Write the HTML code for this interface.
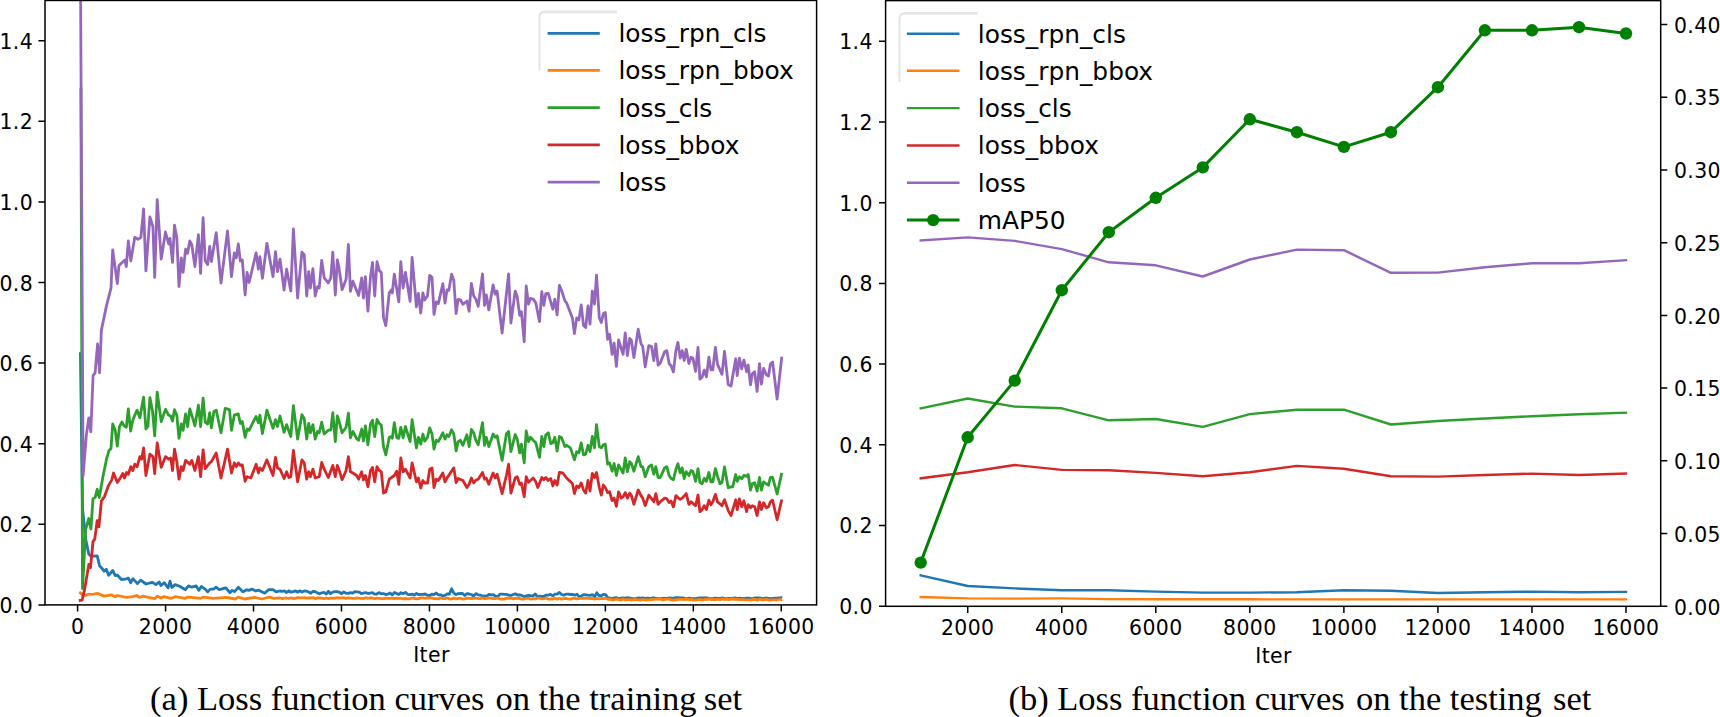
<!DOCTYPE html>
<html lang="en"><head><meta charset="utf-8"><title>Loss function curves</title>
<style>
html,body{margin:0;padding:0;background:#fff;width:1720px;height:717px;overflow:hidden}
svg text{fill:#000}
.t{font-family:"DejaVu Sans","Liberation Sans",sans-serif;font-size:20.4px;letter-spacing:0.4px}
.l{font-family:"DejaVu Sans","Liberation Sans",sans-serif;font-size:24.85px}
.c{font-family:"Liberation Serif","Times New Roman",serif;font-size:34.5px;white-space:pre}
</style></head><body>
<svg width="1720" height="717" viewBox="0 0 1720 717" style="position:absolute;left:0;top:0;display:block">
<rect width="1720" height="717" fill="#fff"/>
<defs><clipPath id="cl"><rect x="45.0" y="0.5" width="771.6" height="604.4"/></clipPath>
<clipPath id="cr"><rect x="885.6" y="0.6" width="775.1" height="605.7"/></clipPath></defs>
<g clip-path="url(#cl)">
<polyline points="80.4,352.2 82.5,508.1 85.7,539.4 88.8,554.1 90.9,556.2 97.2,555.8 99.3,564.5 99.7,566.0 102.2,568.6 104.1,571.2 106.3,569.2 108.6,575.3 112.7,570.5 115.3,575.6 117.3,575.0 121.4,579.5 126.5,578.8 128.4,578.2 130.6,582.7 132.9,578.6 137.4,583.6 140.6,580.1 146.0,584.0 152.1,582.3 155.9,584.6 159.1,582.0 161.0,585.5 164.2,582.7 168.1,587.8 170.0,581.1 171.9,587.5 175.1,584.6 180.2,586.5 185.4,589.7 188.5,585.9 191.7,587.2 196.2,585.9 198.8,590.4 201.3,586.5 205.2,589.1 207.7,591.9 210.3,589.1 213.5,589.1 216.1,587.2 219.2,589.7 225.6,587.8 230.1,592.7 232.0,590.4 234.6,591.6 238.4,587.2 242.9,591.9 246.7,589.7 248.7,590.4 251.9,589.1 255.7,591.0 258.3,590.1 264.7,593.2 268.5,589.7 273.0,589.7 276.2,591.9 280.0,591.0 282.2,591.4 284.4,590.9 286.6,592.5 288.8,590.8 291.0,592.2 293.2,591.7 295.4,590.8 297.6,592.2 299.8,590.8 302.0,592.0 304.2,591.0 306.4,591.1 308.6,592.1 310.8,593.3 313.0,591.3 315.2,591.6 317.4,592.9 319.6,593.8 321.8,592.8 324.0,592.3 326.2,594.0 328.4,591.3 330.6,593.7 332.8,592.1 335.0,591.7 337.2,591.6 339.4,592.2 341.6,593.8 343.8,591.9 346.0,593.2 348.2,593.4 350.4,592.6 352.6,593.1 354.8,591.7 357.0,591.8 359.2,592.2 361.4,593.7 363.6,593.0 365.8,592.6 368.0,593.5 370.2,593.1 372.4,592.7 374.6,594.2 376.8,594.0 379.0,592.6 381.2,593.7 383.4,593.6 385.6,594.6 387.8,594.2 390.0,592.9 392.2,595.1 394.4,592.5 396.6,593.4 398.8,594.5 401.0,592.7 403.2,593.7 405.4,592.4 407.6,594.3 409.8,594.7 412.0,594.1 414.2,595.1 416.4,593.4 418.6,594.6 420.8,594.3 423.0,594.3 425.2,594.0 427.4,595.2 429.6,595.5 431.8,594.1 434.0,594.7 436.2,593.0 438.4,594.9 440.6,594.8 442.8,595.9 445.0,595.4 447.2,593.8 449.4,594.1 451.6,588.8 453.8,593.1 456.0,594.5 458.2,593.6 460.4,593.5 462.6,593.4 464.8,595.5 467.0,593.6 469.2,594.0 471.4,594.5 473.6,596.0 475.8,593.6 478.0,594.8 480.2,595.1 482.4,596.1 484.6,596.0 486.8,596.1 489.0,594.4 491.2,594.9 493.4,594.7 495.6,596.3 497.8,596.5 500.0,594.1 502.2,594.2 504.4,594.4 506.6,594.4 508.8,595.2 511.0,595.5 513.2,594.5 515.4,593.8 517.6,595.0 519.8,594.9 522.0,595.5 524.2,596.7 526.4,595.9 528.6,595.4 530.8,595.7 533.0,595.9 535.2,594.0 537.4,596.6 539.6,596.2 541.8,596.5 544.0,596.3 546.2,595.1 548.4,595.1 550.6,594.3 552.8,595.9 555.0,594.2 557.2,594.2 559.4,592.4 561.6,594.5 563.8,595.1 566.0,594.2 568.2,594.1 570.4,594.5 572.6,594.4 574.8,595.2 577.0,594.2 579.2,596.8 581.4,596.0 583.6,594.6 585.8,594.9 588.0,595.2 590.2,595.3 592.4,594.6 594.6,596.8 596.8,592.8 599.0,595.7 601.2,595.7 603.4,594.5 605.6,594.6 607.8,598.0 610.0,598.0 612.2,598.5 614.4,597.9 616.6,597.7 618.8,598.7 621.0,598.2 623.2,597.8 625.4,598.2 627.6,597.7 629.8,598.2 632.0,598.7 634.2,598.6 636.4,598.4 638.6,598.0 640.8,598.1 643.0,597.9 645.2,598.5 647.4,598.2 649.6,598.5 651.8,598.0 654.0,597.9 656.2,598.5 658.4,598.7 660.6,598.6 662.8,598.5 665.0,598.5 667.2,598.4 669.4,597.9 671.6,598.2 673.8,598.1 676.0,597.7 678.2,597.7 680.4,598.0 682.6,598.0 684.8,598.4 687.0,598.7 689.2,598.1 691.4,598.6 693.6,598.7 695.8,598.7 698.0,598.1 700.2,597.9 702.4,597.9 704.6,597.9 706.8,597.9 709.0,598.3 711.2,598.6 713.4,598.5 715.6,598.2 717.8,598.4 720.0,598.5 722.2,597.8 724.4,598.4 726.6,598.6 728.8,598.5 731.0,598.5 733.2,598.2 735.4,597.9 737.6,598.5 739.8,598.0 742.0,598.5 744.2,598.7 746.4,598.1 748.6,598.1 750.8,598.6 753.0,598.4 755.2,597.9 757.4,597.8 759.6,597.9 761.8,598.6 764.0,598.5 766.2,597.8 768.4,598.5 770.6,598.7 772.8,598.4 775.0,598.1 777.2,598.2 779.4,597.8 781.6,597.7 782.0,598.0" fill="none" stroke="#1f77b4" stroke-width="2.8" stroke-linejoin="round" stroke-linecap="butt" />
<polyline points="79.2,592.3 82.4,594.2 85.6,595.5 87.5,594.4 93.5,594.2 97.7,593.5 104.1,596.1 111.2,594.8 115.3,596.7 117.3,595.5 126.5,597.4 132.9,596.7 136.7,595.5 139.3,597.4 143.1,596.1 148.3,597.4 154.7,598.7 157.2,596.1 161.0,598.0 163.6,596.7 171.3,598.3 175.1,596.7 185.4,598.3 187.9,597.1 200.7,598.3 203.3,597.1 213.5,598.3 226.3,597.4 235.2,599.0 238.4,597.1 244.2,599.0 254.4,597.4 262.1,599.0 269.1,597.1 273.6,598.3 280.0,598.0 282.2,598.6 284.4,598.2 286.6,598.0 288.8,598.5 291.0,597.9 293.2,598.5 295.4,598.4 297.6,597.7 299.8,597.8 302.0,597.8 304.2,597.7 306.4,598.2 308.6,597.8 310.8,598.0 313.0,597.6 315.2,598.6 317.4,597.9 319.6,598.0 321.8,598.2 324.0,598.6 326.2,598.0 328.4,598.6 330.6,598.1 332.8,598.2 335.0,598.2 337.2,597.6 339.4,598.1 341.6,597.8 343.8,597.6 346.0,598.5 348.2,597.8 350.4,598.1 352.6,598.4 354.8,598.3 357.0,598.0 359.2,598.2 361.4,598.3 363.6,598.5 365.8,597.7 368.0,598.3 370.2,597.9 372.4,598.0 374.6,598.6 376.8,598.2 379.0,598.3 381.2,598.6 383.4,598.7 385.6,598.2 387.8,598.4 390.0,598.3 392.2,598.3 394.4,598.5 396.6,598.2 398.8,598.3 401.0,598.3 403.2,598.8 405.4,598.5 407.6,598.8 409.8,598.8 412.0,598.0 414.2,598.4 416.4,598.9 418.6,598.7 420.8,597.9 423.0,597.9 425.2,598.3 427.4,597.8 429.6,598.1 431.8,597.9 434.0,598.6 436.2,598.7 438.4,598.9 440.6,598.0 442.8,598.7 445.0,598.6 447.2,598.0 449.4,598.9 451.6,599.0 453.8,598.1 456.0,599.0 458.2,598.3 460.4,598.4 462.6,599.0 464.8,598.9 467.0,598.1 469.2,598.4 471.4,598.5 473.6,598.3 475.8,598.1 478.0,598.3 480.2,598.8 482.4,597.9 484.6,598.6 486.8,598.4 489.0,597.9 491.2,598.3 493.4,598.7 495.6,598.5 497.8,598.0 500.0,599.1 502.2,598.9 504.4,599.1 506.6,598.1 508.8,598.3 511.0,598.0 513.2,598.9 515.4,598.3 517.6,598.1 519.8,598.5 522.0,599.1 524.2,599.0 526.4,598.3 528.6,598.2 530.8,599.1 533.0,598.7 535.2,598.9 537.4,598.1 539.6,598.1 541.8,598.9 544.0,598.6 546.2,598.1 548.4,599.2 550.6,598.8 552.8,599.0 555.0,598.2 557.2,599.1 559.4,598.2 561.6,599.1 563.8,598.6 566.0,598.5 568.2,598.8 570.4,599.2 572.6,598.4 574.8,598.3 577.0,598.8 579.2,598.4 581.4,598.3 583.6,598.3 585.8,598.2 588.0,598.4 590.2,598.5 592.4,598.5 594.6,599.1 596.8,598.5 599.0,598.8 601.2,598.4 603.4,598.6 605.6,598.2 607.8,599.3 610.0,599.0 612.2,599.9 614.4,599.7 616.6,599.2 618.8,599.6 621.0,600.1 623.2,599.1 625.4,600.0 627.6,599.5 629.8,599.6 632.0,600.0 634.2,599.5 636.4,599.6 638.6,599.8 640.8,600.2 643.0,599.4 645.2,600.0 647.4,599.8 649.6,599.8 651.8,599.5 654.0,599.4 656.2,599.1 658.4,599.2 660.6,599.1 662.8,599.9 665.0,599.3 667.2,599.2 669.4,599.1 671.6,600.0 673.8,600.0 676.0,599.8 678.2,599.3 680.4,599.3 682.6,599.4 684.8,599.6 687.0,599.2 689.2,599.5 691.4,599.3 693.6,600.2 695.8,600.2 698.0,599.7 700.2,599.3 702.4,600.2 704.6,599.4 706.8,599.4 709.0,599.0 711.2,599.5 713.4,599.6 715.6,599.6 717.8,599.2 720.0,599.6 722.2,599.0 724.4,599.3 726.6,599.1 728.8,599.5 731.0,599.1 733.2,599.0 735.4,599.4 737.6,599.3 739.8,599.7 742.0,599.6 744.2,599.9 746.4,599.8 748.6,599.9 750.8,600.1 753.0,599.5 755.2,599.4 757.4,600.2 759.6,599.2 761.8,599.9 764.0,599.8 766.2,599.1 768.4,600.0 770.6,600.1 772.8,599.8 775.0,599.9 777.2,600.0 779.4,599.2 781.6,599.6 782.0,599.2" fill="none" stroke="#ff7f0e" stroke-width="2.8" stroke-linejoin="round" stroke-linecap="butt" />
<polyline points="80.6,87.9 80.9,87.8 82.5,588.6 85.7,529.0 88.8,518.5 90.9,529.0 93.0,498.7 95.1,497.6 97.2,489.3 99.3,497.6 102.7,478.0 106.5,459.2 109.0,450.4 111.0,448.4 112.7,424.0 115.2,430.3 117.3,446.1 119.5,426.5 122.0,422.0 124.0,425.8 126.3,427.3 128.3,408.9 130.6,431.0 132.8,420.2 134.8,415.2 137.1,410.2 139.9,417.7 143.6,397.1 145.9,429.0 147.9,426.5 149.9,397.6 152.4,410.2 154.7,435.8 157.2,392.1 161.2,421.5 165.5,409.4 168.7,415.2 170.7,416.0 172.5,421.0 174.5,409.7 176.8,415.2 179.0,438.3 181.3,424.0 183.1,430.3 185.6,413.9 187.6,426.5 189.8,408.9 191.8,415.2 194.9,425.8 198.4,405.2 200.6,426.5 203.1,398.1 205.2,422.2 207.7,424.0 209.7,412.7 211.4,427.8 213.9,411.4 216.2,410.2 221.0,432.8 225.2,408.4 229.5,409.7 231.5,430.3 234.3,415.2 238.3,413.9 240.3,423.5 242.3,421.5 245.1,437.3 247.1,429.0 249.1,430.3 253.4,421.5 256.1,416.5 258.4,422.7 259.9,415.2 262.4,433.5 266.9,410.2 273.0,428.3 275.5,419.7 277.5,426.5 280.0,416.0 284.1,432.3 286.6,424.7 290.8,436.5 293.4,405.7 297.6,439.1 301.9,414.7 304.2,418.5 306.7,439.1 308.7,423.5 310.4,432.8 312.9,424.7 315.2,439.1 317.5,431.5 319.2,432.8 321.7,422.2 324.2,434.0 328.3,430.3 330.8,429.8 332.8,412.7 335.3,441.6 337.3,416.0 338.8,420.2 342.1,432.8 346.1,427.3 348.4,413.2 350.4,437.8 352.9,431.5 356.6,438.6 358.6,440.3 361.7,429.0 363.4,441.1 365.4,425.8 367.9,444.8 370.5,424.0 372.5,420.2 374.7,436.5 377.0,419.5 379.2,423.5 381.3,425.2 383.5,446.6 385.8,454.9 389.3,437.3 391.3,436.5 392.3,438.3 394.3,422.7 396.8,437.8 398.8,438.3 400.8,427.3 403.1,437.8 405.4,426.5 410.1,441.6 412.1,419.7 416.4,447.9 418.4,437.3 420.7,444.1 422.9,434.0 424.7,441.1 427.5,437.3 429.7,427.8 432.0,434.0 434.0,449.1 436.2,440.3 438.3,441.6 442.8,432.8 445.0,439.1 447.0,434.8 448.8,436.5 451.6,429.8 453.8,434.0 456.1,450.9 458.1,441.6 460.4,440.3 462.9,445.3 466.9,434.8 469.1,446.6 471.4,429.5 473.7,432.8 475.9,440.3 478.2,444.8 482.5,422.7 484.5,445.3 486.3,437.3 488.8,446.6 493.1,434.0 495.1,437.3 497.1,435.8 502.1,460.4 506.4,434.0 508.6,431.5 510.9,451.6 515.2,434.5 517.2,439.1 519.7,452.9 521.4,444.1 524.2,462.9 526.2,431.0 528.5,441.6 530.5,437.3 533.2,440.3 535.8,442.8 539.5,457.4 541.8,436.5 543.8,446.6 545.8,434.8 548.3,432.8 550.8,443.6 552.8,442.8 554.8,437.3 557.1,451.1 559.4,436.5 561.6,437.8 564.9,446.6 566.6,445.3 570.4,447.9 574.4,459.9 576.7,451.6 578.9,452.9 581.2,442.8 583.5,454.9 585.7,454.1 588.0,445.3 590.0,451.6 592.3,436.5 594.5,447.9 596.5,424.7 599.3,446.6 601.3,447.9 603.3,444.8 605.3,444.1 607.6,464.2 609.6,462.9 612.1,471.2 614.1,463.4 616.4,475.5 618.6,464.9 623.1,473.0 625.2,457.9 627.4,471.7 629.7,461.7 631.4,463.4 633.9,471.2 638.2,456.6 641.0,466.7 642.7,466.7 645.2,476.7 648.8,466.7 651.5,464.9 653.8,474.2 655.8,466.7 658.1,477.5 660.3,477.5 664.6,467.9 666.8,466.7 669.1,475.5 671.1,478.5 673.4,479.7 675.9,469.2 677.9,463.7 680.2,473.0 682.2,467.9 684.2,478.7 686.2,471.7 688.9,475.5 691.1,470.5 692.9,471.5 695.6,481.3 698.0,468.6 699.9,482.3 702.1,483.8 704.2,478.4 706.4,481.3 708.9,472.5 710.9,481.9 712.8,481.9 715.4,468.6 717.5,476.4 720.0,483.8 722.0,482.3 724.5,467.0 728.2,487.7 731.0,486.8 732.7,486.8 735.7,474.5 737.2,481.3 739.4,476.8 741.7,478.8 743.9,475.4 746.6,476.4 748.2,474.5 750.5,490.1 752.3,483.8 754.6,482.7 757.1,491.1 759.5,477.4 761.4,490.1 763.6,481.9 766.3,483.8 768.5,485.2 770.4,477.4 772.6,477.4 777.1,494.0 781.8,472.9" fill="none" stroke="#2ca02c" stroke-width="2.8" stroke-linejoin="round" stroke-linecap="butt" />
<polyline points="78.8,600.5 82.1,600.1 84.6,589.6 88.8,564.5 90.5,567.7 93.0,541.5 94.7,539.4 97.2,520.6 98.9,526.9 101.4,500.8 104.5,496.6 108.7,485.1 111.8,479.9 113.5,473.0 117.3,482.5 120.3,478.0 122.8,473.5 124.5,478.0 126.5,472.5 128.3,474.2 130.8,466.7 132.8,470.5 134.8,464.2 137.1,466.7 139.9,456.6 141.6,459.2 143.6,447.9 145.9,475.5 149.9,454.1 152.9,456.6 154.7,473.5 157.2,442.8 161.2,467.4 165.5,456.6 168.7,459.2 170.7,457.9 172.5,470.5 174.5,449.1 176.8,461.7 179.0,479.2 181.3,466.7 183.1,470.5 185.6,460.4 189.8,464.2 191.8,460.4 194.9,470.5 198.4,456.6 200.6,476.7 203.1,449.9 205.2,468.7 209.7,462.9 211.4,461.7 216.2,452.9 221.0,478.0 227.5,449.1 231.5,473.0 234.3,462.9 236.3,466.7 238.3,462.9 240.3,465.4 242.3,464.9 245.1,481.3 247.1,476.7 250.9,478.0 256.1,464.2 258.4,473.0 259.9,467.9 262.4,470.5 266.9,459.9 273.0,475.5 275.5,457.4 277.5,467.9 280.0,469.2 284.1,478.5 286.6,471.7 288.8,477.5 290.8,476.7 293.4,450.4 297.6,481.8 301.9,459.9 304.2,462.9 306.7,479.2 308.7,471.7 310.4,476.7 312.9,469.2 315.2,478.0 319.2,476.7 321.7,462.4 324.2,469.2 328.3,477.5 332.8,465.4 335.3,476.7 337.3,465.4 338.8,469.2 342.1,479.7 346.1,470.5 348.4,456.6 350.4,471.7 352.9,473.0 356.6,475.5 358.6,479.2 361.7,471.7 363.4,480.0 365.4,475.5 367.9,486.8 370.5,470.5 372.5,467.4 374.7,481.8 377.0,466.7 379.2,470.5 381.3,471.7 383.5,493.1 385.8,491.8 389.3,479.2 394.3,475.5 396.8,471.2 398.8,484.3 400.8,457.9 403.1,471.7 405.4,469.2 410.1,478.0 412.1,462.9 416.4,481.8 418.4,478.0 420.7,488.0 422.9,480.5 424.7,483.0 427.5,483.0 429.7,469.2 432.0,467.9 434.0,487.5 436.2,479.2 438.3,480.5 442.8,473.0 445.0,481.8 447.0,478.0 453.8,467.9 456.1,482.5 458.1,478.5 462.9,480.5 466.9,487.5 469.1,484.3 471.4,478.0 473.7,483.0 475.9,480.0 478.2,479.2 482.5,472.5 484.5,479.2 486.3,478.0 488.8,484.3 493.1,473.0 495.1,478.0 497.1,474.2 502.1,493.6 506.4,475.5 508.6,464.2 510.9,493.1 515.2,478.0 517.2,476.7 519.7,484.3 521.4,483.0 524.2,496.8 526.2,476.7 528.5,482.3 530.5,480.5 533.2,478.0 535.8,481.8 537.8,487.5 541.8,477.5 543.8,479.7 545.8,477.5 548.3,480.5 550.8,478.5 552.8,486.0 554.8,480.5 557.1,485.0 559.4,472.5 562.9,473.0 566.6,478.0 570.4,481.8 572.4,483.5 574.4,493.6 576.7,486.0 578.9,487.5 581.2,483.0 583.5,490.0 585.7,493.1 588.0,480.5 590.0,491.0 592.3,473.5 594.5,477.5 596.5,472.5 599.3,487.5 601.3,495.1 603.3,485.0 605.3,487.5 607.6,492.6 609.6,491.8 612.1,500.6 614.1,498.1 616.4,506.4 618.6,491.8 621.1,498.1 623.1,496.8 625.2,492.6 627.4,498.1 629.7,493.1 631.4,495.6 633.9,504.4 638.2,490.0 641.0,495.6 642.7,498.1 645.2,505.6 648.8,495.1 651.5,498.6 653.8,501.8 655.8,493.6 658.1,504.4 660.3,501.8 664.6,498.1 666.8,498.6 669.1,502.6 671.1,501.1 673.4,506.9 675.9,495.6 677.9,497.6 680.2,499.3 682.2,498.1 686.2,493.6 688.9,504.4 691.1,501.8 692.9,503.4 695.6,505.7 698.0,495.0 699.9,511.6 702.1,509.6 704.2,505.7 706.4,509.6 708.9,500.2 710.9,504.7 712.8,501.8 715.4,494.4 717.5,501.8 720.0,503.8 722.0,505.7 724.5,499.8 728.2,510.6 731.0,515.5 735.7,499.8 737.2,509.6 739.4,498.9 741.7,506.7 743.9,500.8 746.6,511.6 748.2,504.7 750.5,507.7 752.3,505.7 754.6,506.7 757.1,515.5 759.5,501.8 761.4,509.6 763.6,502.8 766.3,507.7 768.5,506.7 770.4,501.8 772.6,500.2 777.1,519.8 781.8,499.5" fill="none" stroke="#d62728" stroke-width="2.8" stroke-linejoin="round" stroke-linecap="butt" />
<polyline points="80.5,-26.4 83.1,475.7 86.3,435.6 88.8,418.0 90.8,431.8 93.1,375.3 95.1,372.8 97.6,343.9 99.6,372.8 101.4,330.1 106.5,305.6 111.0,288.0 112.7,249.8 117.3,283.5 119.0,265.4 124.8,259.9 126.3,266.6 128.3,241.0 130.8,260.9 134.8,237.3 137.9,239.3 140.9,237.3 143.6,208.9 145.9,270.9 149.9,216.9 152.9,226.5 154.7,277.4 157.2,199.6 161.2,259.1 165.5,232.0 168.7,244.0 170.0,238.3 172.5,262.4 174.5,225.2 176.8,237.8 179.0,286.5 181.3,257.9 183.1,272.4 185.6,249.1 187.6,253.3 189.8,241.0 191.8,244.8 194.9,266.6 198.4,234.7 200.6,273.4 203.1,217.7 205.2,260.9 207.7,264.6 209.7,246.5 211.4,261.6 216.2,232.7 221.0,283.0 227.5,231.0 231.5,276.7 234.3,252.8 236.3,257.9 238.3,244.0 240.3,260.9 242.3,259.9 245.1,294.8 247.1,272.4 249.1,282.5 256.1,252.8 258.4,269.2 259.9,256.6 262.4,278.4 266.9,243.3 273.0,276.7 275.5,251.6 277.5,271.7 280.0,259.1 284.1,290.0 286.6,269.2 290.8,291.0 293.4,229.0 297.6,298.0 301.9,252.1 304.2,254.6 306.7,296.0 308.7,271.7 310.4,288.0 312.9,268.6 315.2,296.0 317.5,286.7 319.2,288.0 321.7,260.4 324.2,277.9 328.3,283.0 330.8,277.9 332.8,252.1 335.3,295.0 337.3,259.9 338.8,266.6 342.1,289.7 346.1,279.2 348.4,244.5 350.4,291.3 352.9,281.2 358.6,295.5 361.7,277.9 363.4,298.0 365.4,276.7 367.9,311.1 370.5,276.7 372.5,262.4 374.7,296.0 377.0,261.6 379.2,270.4 381.3,272.4 383.5,317.6 385.8,325.7 389.3,292.5 391.3,290.0 392.3,293.0 394.3,274.2 398.8,301.8 400.8,261.6 403.1,288.0 405.4,272.4 410.1,301.3 412.1,257.3 416.4,306.8 418.4,293.5 420.7,313.1 422.9,293.0 424.7,300.0 427.5,296.0 429.7,275.4 432.0,277.4 434.0,314.4 436.2,301.8 438.3,303.6 442.8,283.7 445.0,303.1 447.0,290.0 448.8,290.5 451.6,274.2 453.8,280.5 456.1,313.6 458.1,299.3 460.4,299.8 462.9,304.3 466.9,301.0 469.1,311.3 471.4,283.5 473.7,296.0 475.9,299.3 478.2,306.3 482.5,274.0 484.5,305.4 486.3,294.8 488.8,309.9 493.1,284.8 495.1,294.1 497.1,291.1 502.1,333.0 508.6,274.0 510.9,323.0 515.2,291.1 517.2,296.6 519.7,315.4 521.4,311.7 524.2,341.8 526.2,286.0 528.5,304.1 530.5,298.4 533.2,299.1 535.8,302.9 539.5,321.7 541.8,291.6 543.8,305.4 545.8,293.6 548.3,293.3 552.8,309.2 554.8,299.1 557.1,314.9 559.4,285.3 561.6,290.3 564.9,300.9 566.6,302.9 572.4,317.9 574.4,333.5 576.7,317.9 578.9,319.9 581.2,304.9 583.5,325.5 585.7,327.5 588.0,305.9 590.0,324.2 592.3,291.1 594.5,304.1 596.5,275.2 599.3,317.9 601.3,322.5 603.3,313.7 605.3,312.4 607.6,339.3 609.6,334.3 612.1,354.4 614.1,343.1 616.4,366.4 618.6,340.0 623.1,354.4 625.2,333.0 627.4,355.6 629.7,338.5 631.4,340.5 633.9,357.6 638.2,329.2 641.0,343.8 642.7,346.3 645.2,366.9 648.8,345.6 651.5,346.3 653.8,360.6 655.8,343.8 658.1,365.2 660.3,363.1 664.6,351.8 666.8,350.6 669.1,363.6 671.1,365.7 673.4,371.9 675.9,350.6 677.9,342.3 680.2,358.1 682.2,350.6 684.2,360.6 686.2,349.3 688.9,363.6 691.1,357.1 692.9,358.1 695.6,371.4 698.0,347.4 699.9,379.2 702.1,377.3 704.2,370.2 706.4,376.7 708.9,357.1 710.9,369.8 712.8,369.8 715.4,347.4 717.5,364.4 722.0,374.3 724.5,351.3 728.2,384.5 731.0,386.1 735.7,358.7 737.2,375.7 739.4,358.1 741.7,368.9 743.9,360.1 746.6,371.8 748.2,365.0 750.5,384.9 752.3,373.8 754.6,371.8 757.1,391.3 759.5,363.6 761.4,384.1 763.6,368.3 766.3,374.7 768.5,376.1 770.4,364.0 772.6,362.0 777.1,399.1 781.8,356.6" fill="none" stroke="#9467bd" stroke-width="2.8" stroke-linejoin="round" stroke-linecap="butt" />
</g>
<rect x="45.00" y="0.45" width="771.60" height="604.45" fill="none" stroke="#000" stroke-width="1.5"/>
<text x="77.60" y="634.1" text-anchor="middle" class="t">0</text>
<text x="165.56" y="634.1" text-anchor="middle" class="t">2000</text>
<text x="253.52" y="634.1" text-anchor="middle" class="t">4000</text>
<text x="341.48" y="634.1" text-anchor="middle" class="t">6000</text>
<text x="429.44" y="634.1" text-anchor="middle" class="t">8000</text>
<text x="517.40" y="634.1" text-anchor="middle" class="t">10000</text>
<text x="605.36" y="634.1" text-anchor="middle" class="t">12000</text>
<text x="693.32" y="634.1" text-anchor="middle" class="t">14000</text>
<text x="781.28" y="634.1" text-anchor="middle" class="t">16000</text>
<text x="33.10" y="612.90" text-anchor="end" class="t">0.0</text>
<text x="33.10" y="532.30" text-anchor="end" class="t">0.2</text>
<text x="33.10" y="451.70" text-anchor="end" class="t">0.4</text>
<text x="33.10" y="371.10" text-anchor="end" class="t">0.6</text>
<text x="33.10" y="290.50" text-anchor="end" class="t">0.8</text>
<text x="33.10" y="209.90" text-anchor="end" class="t">1.0</text>
<text x="33.10" y="129.30" text-anchor="end" class="t">1.2</text>
<text x="33.10" y="48.70" text-anchor="end" class="t">1.4</text>
<path d="M77.60 604.90v6.6 M165.56 604.90v6.6 M253.52 604.90v6.6 M341.48 604.90v6.6 M429.44 604.90v6.6 M517.40 604.90v6.6 M605.36 604.90v6.6 M693.32 604.90v6.6 M781.28 604.90v6.6 M45.00 604.90h-6.6 M45.00 524.30h-6.6 M45.00 443.70h-6.6 M45.00 363.10h-6.6 M45.00 282.50h-6.6 M45.00 201.90h-6.6 M45.00 121.30h-6.6 M45.00 40.70h-6.6" stroke="#000" stroke-width="1.5" fill="none"/>
<text x="431.4" y="661.8" text-anchor="middle" class="t">Iter</text>
<path d="M539.5 70.5V17.0Q539.5 12.0 544.5 12.0" fill="none" stroke="#e2e2e2" stroke-width="1.8"/>
<path d="M544.0 11.8H617.0" fill="none" stroke="#e6e6e6" stroke-width="2.8"/>
<line x1="547.6" y1="33.3" x2="599.8" y2="33.3" stroke="#1f77b4" stroke-width="2.7"/>
<text x="618.4" y="42.3" class="l">loss_rpn_cls</text>
<line x1="547.6" y1="70.4" x2="599.8" y2="70.4" stroke="#ff7f0e" stroke-width="2.7"/>
<text x="618.4" y="79.4" class="l">loss_rpn_bbox</text>
<line x1="547.6" y1="107.6" x2="599.8" y2="107.6" stroke="#2ca02c" stroke-width="2.7"/>
<text x="618.4" y="116.6" class="l">loss_cls</text>
<line x1="547.6" y1="144.8" x2="599.8" y2="144.8" stroke="#d62728" stroke-width="2.7"/>
<text x="618.4" y="153.8" class="l">loss_bbox</text>
<line x1="547.6" y1="182.1" x2="599.8" y2="182.1" stroke="#9467bd" stroke-width="2.7"/>
<text x="618.4" y="191.1" class="l">loss</text>
<g clip-path="url(#cr)">
<polyline points="920.7,575.3 967.7,586.0 1014.7,588.4 1061.8,590.2 1108.8,590.2 1155.8,591.6 1202.8,592.6 1249.8,592.6 1296.9,592.2 1343.9,590.2 1390.9,590.8 1437.9,593.0 1484.9,592.2 1532.0,591.6 1579.0,592.3 1626.0,591.9" fill="none" stroke="#1f77b4" stroke-width="2.4" stroke-linejoin="round" stroke-linecap="square" />
<polyline points="920.7,597.0 967.7,598.4 1014.7,598.6 1061.8,598.4 1108.8,599.1 1155.8,599.3 1202.8,599.3 1249.8,599.3 1296.9,599.4 1343.9,599.4 1390.9,599.4 1437.9,599.4 1484.9,599.4 1532.0,599.4 1579.0,599.4 1626.0,599.4" fill="none" stroke="#ff7f0e" stroke-width="2.4" stroke-linejoin="round" stroke-linecap="square" />
<polyline points="920.7,408.3 967.7,398.5 1014.7,406.6 1061.8,408.3 1108.8,420.3 1155.8,419.0 1202.8,426.9 1249.8,414.1 1296.9,409.8 1343.9,409.7 1390.9,424.5 1437.9,421.0 1484.9,418.5 1532.0,416.2 1579.0,414.3 1626.0,412.7" fill="none" stroke="#2ca02c" stroke-width="2.4" stroke-linejoin="round" stroke-linecap="square" />
<polyline points="920.7,478.3 967.7,472.2 1014.7,465.0 1061.8,469.9 1108.8,470.3 1155.8,472.9 1202.8,476.2 1249.8,472.2 1296.9,465.9 1343.9,468.7 1390.9,476.2 1437.9,476.6 1484.9,475.0 1532.0,473.6 1579.0,475.0 1626.0,473.6" fill="none" stroke="#d62728" stroke-width="2.4" stroke-linejoin="round" stroke-linecap="square" />
<polyline points="920.7,240.5 967.7,237.4 1014.7,240.9 1061.8,249.1 1108.8,262.3 1155.8,265.3 1202.8,276.5 1249.8,259.5 1296.9,249.6 1343.9,250.2 1390.9,272.8 1437.9,272.6 1484.9,267.2 1532.0,263.3 1579.0,263.3 1626.0,260.2" fill="none" stroke="#9467bd" stroke-width="2.4" stroke-linejoin="round" stroke-linecap="square" />
</g>
<polyline points="920.7,562.6 967.7,437.3 1014.7,380.6 1061.8,290.2 1108.8,232.2 1155.8,197.8 1202.8,167.4 1249.8,119.3 1296.9,132.2 1343.9,146.9 1390.9,132.2 1437.9,87.2 1484.9,30.3 1532.0,30.3 1579.0,27.2 1626.0,33.5" fill="none" stroke="#008000" stroke-width="3.0" stroke-linejoin="round" stroke-linecap="square" />
<circle cx="920.7" cy="562.6" r="6.2" fill="#008000"/>
<circle cx="967.7" cy="437.3" r="6.2" fill="#008000"/>
<circle cx="1014.7" cy="380.6" r="6.2" fill="#008000"/>
<circle cx="1061.8" cy="290.2" r="6.2" fill="#008000"/>
<circle cx="1108.8" cy="232.2" r="6.2" fill="#008000"/>
<circle cx="1155.8" cy="197.8" r="6.2" fill="#008000"/>
<circle cx="1202.8" cy="167.4" r="6.2" fill="#008000"/>
<circle cx="1249.8" cy="119.3" r="6.2" fill="#008000"/>
<circle cx="1296.9" cy="132.2" r="6.2" fill="#008000"/>
<circle cx="1343.9" cy="146.9" r="6.2" fill="#008000"/>
<circle cx="1390.9" cy="132.2" r="6.2" fill="#008000"/>
<circle cx="1437.9" cy="87.2" r="6.2" fill="#008000"/>
<circle cx="1484.9" cy="30.3" r="6.2" fill="#008000"/>
<circle cx="1532.0" cy="30.3" r="6.2" fill="#008000"/>
<circle cx="1579.0" cy="27.2" r="6.2" fill="#008000"/>
<circle cx="1626.0" cy="33.5" r="6.2" fill="#008000"/>
<rect x="885.60" y="0.60" width="775.10" height="605.70" fill="none" stroke="#000" stroke-width="1.5"/>
<text x="967.72" y="635.4" text-anchor="middle" class="t">2000</text>
<text x="1061.76" y="635.4" text-anchor="middle" class="t">4000</text>
<text x="1155.80" y="635.4" text-anchor="middle" class="t">6000</text>
<text x="1249.84" y="635.4" text-anchor="middle" class="t">8000</text>
<text x="1343.88" y="635.4" text-anchor="middle" class="t">10000</text>
<text x="1437.92" y="635.4" text-anchor="middle" class="t">12000</text>
<text x="1531.96" y="635.4" text-anchor="middle" class="t">14000</text>
<text x="1626.00" y="635.4" text-anchor="middle" class="t">16000</text>
<text x="872.80" y="614.20" text-anchor="end" class="t">0.0</text>
<text x="872.80" y="533.47" text-anchor="end" class="t">0.2</text>
<text x="872.80" y="452.74" text-anchor="end" class="t">0.4</text>
<text x="872.80" y="372.01" text-anchor="end" class="t">0.6</text>
<text x="872.80" y="291.29" text-anchor="end" class="t">0.8</text>
<text x="872.80" y="210.56" text-anchor="end" class="t">1.0</text>
<text x="872.80" y="129.83" text-anchor="end" class="t">1.2</text>
<text x="872.80" y="49.10" text-anchor="end" class="t">1.4</text>
<text x="1673.90" y="614.50" class="t">0.00</text>
<text x="1673.90" y="541.77" class="t">0.05</text>
<text x="1673.90" y="469.05" class="t">0.10</text>
<text x="1673.90" y="396.32" class="t">0.15</text>
<text x="1673.90" y="323.60" class="t">0.20</text>
<text x="1673.90" y="250.88" class="t">0.25</text>
<text x="1673.90" y="178.15" class="t">0.30</text>
<text x="1673.90" y="105.42" class="t">0.35</text>
<text x="1673.90" y="32.70" class="t">0.40</text>
<path d="M967.72 606.30v6.6 M1061.76 606.30v6.6 M1155.80 606.30v6.6 M1249.84 606.30v6.6 M1343.88 606.30v6.6 M1437.92 606.30v6.6 M1531.96 606.30v6.6 M1626.00 606.30v6.6 M885.60 606.30h-6.6 M885.60 525.57h-6.6 M885.60 444.84h-6.6 M885.60 364.11h-6.6 M885.60 283.39h-6.6 M885.60 202.66h-6.6 M885.60 121.93h-6.6 M885.60 41.20h-6.6 M1660.70 606.30h6.6 M1660.70 533.57h6.6 M1660.70 460.85h6.6 M1660.70 388.12h6.6 M1660.70 315.40h6.6 M1660.70 242.68h6.6 M1660.70 169.95h6.6 M1660.70 97.22h6.6 M1660.70 24.50h6.6" stroke="#000" stroke-width="1.5" fill="none"/>
<text x="1273.6" y="663.3" text-anchor="middle" class="t">Iter</text>
<path d="M899.5 82.0V18.5Q899.5 13.5 904.5 13.5" fill="none" stroke="#e2e2e2" stroke-width="1.8"/>
<path d="M904.0 13.3H977.5" fill="none" stroke="#e6e6e6" stroke-width="2.8"/>
<line x1="906.9" y1="33.8" x2="959.5" y2="33.8" stroke="#1f77b4" stroke-width="2.45"/>
<text x="977.8" y="42.6" class="l">loss_rpn_cls</text>
<line x1="906.9" y1="70.8" x2="959.5" y2="70.8" stroke="#ff7f0e" stroke-width="2.45"/>
<text x="977.8" y="79.6" class="l">loss_rpn_bbox</text>
<line x1="906.9" y1="108.1" x2="959.5" y2="108.1" stroke="#2ca02c" stroke-width="2.45"/>
<text x="977.8" y="116.9" class="l">loss_cls</text>
<line x1="906.9" y1="145.5" x2="959.5" y2="145.5" stroke="#d62728" stroke-width="2.45"/>
<text x="977.8" y="154.3" class="l">loss_bbox</text>
<line x1="906.9" y1="182.8" x2="959.5" y2="182.8" stroke="#9467bd" stroke-width="2.45"/>
<text x="977.8" y="191.6" class="l">loss</text>
<line x1="906.9" y1="220.1" x2="959.5" y2="220.1" stroke="#008000" stroke-width="3.0"/>
<circle cx="933.2" cy="220.1" r="6.2" fill="#008000"/>
<text x="977.8" y="228.9" class="l">mAP50</text>
<text x="150.1" y="709.6" class="c">(a) Loss function curves <tspan dx="2.3">on the training </tspan><tspan dx="-1.4">set</tspan></text>
<text x="1008.4" y="709.6" class="c">(b) Loss function curves <tspan dx="2.6">on the testing </tspan><tspan dx="2.6">set</tspan></text>
</svg>
</body></html>
